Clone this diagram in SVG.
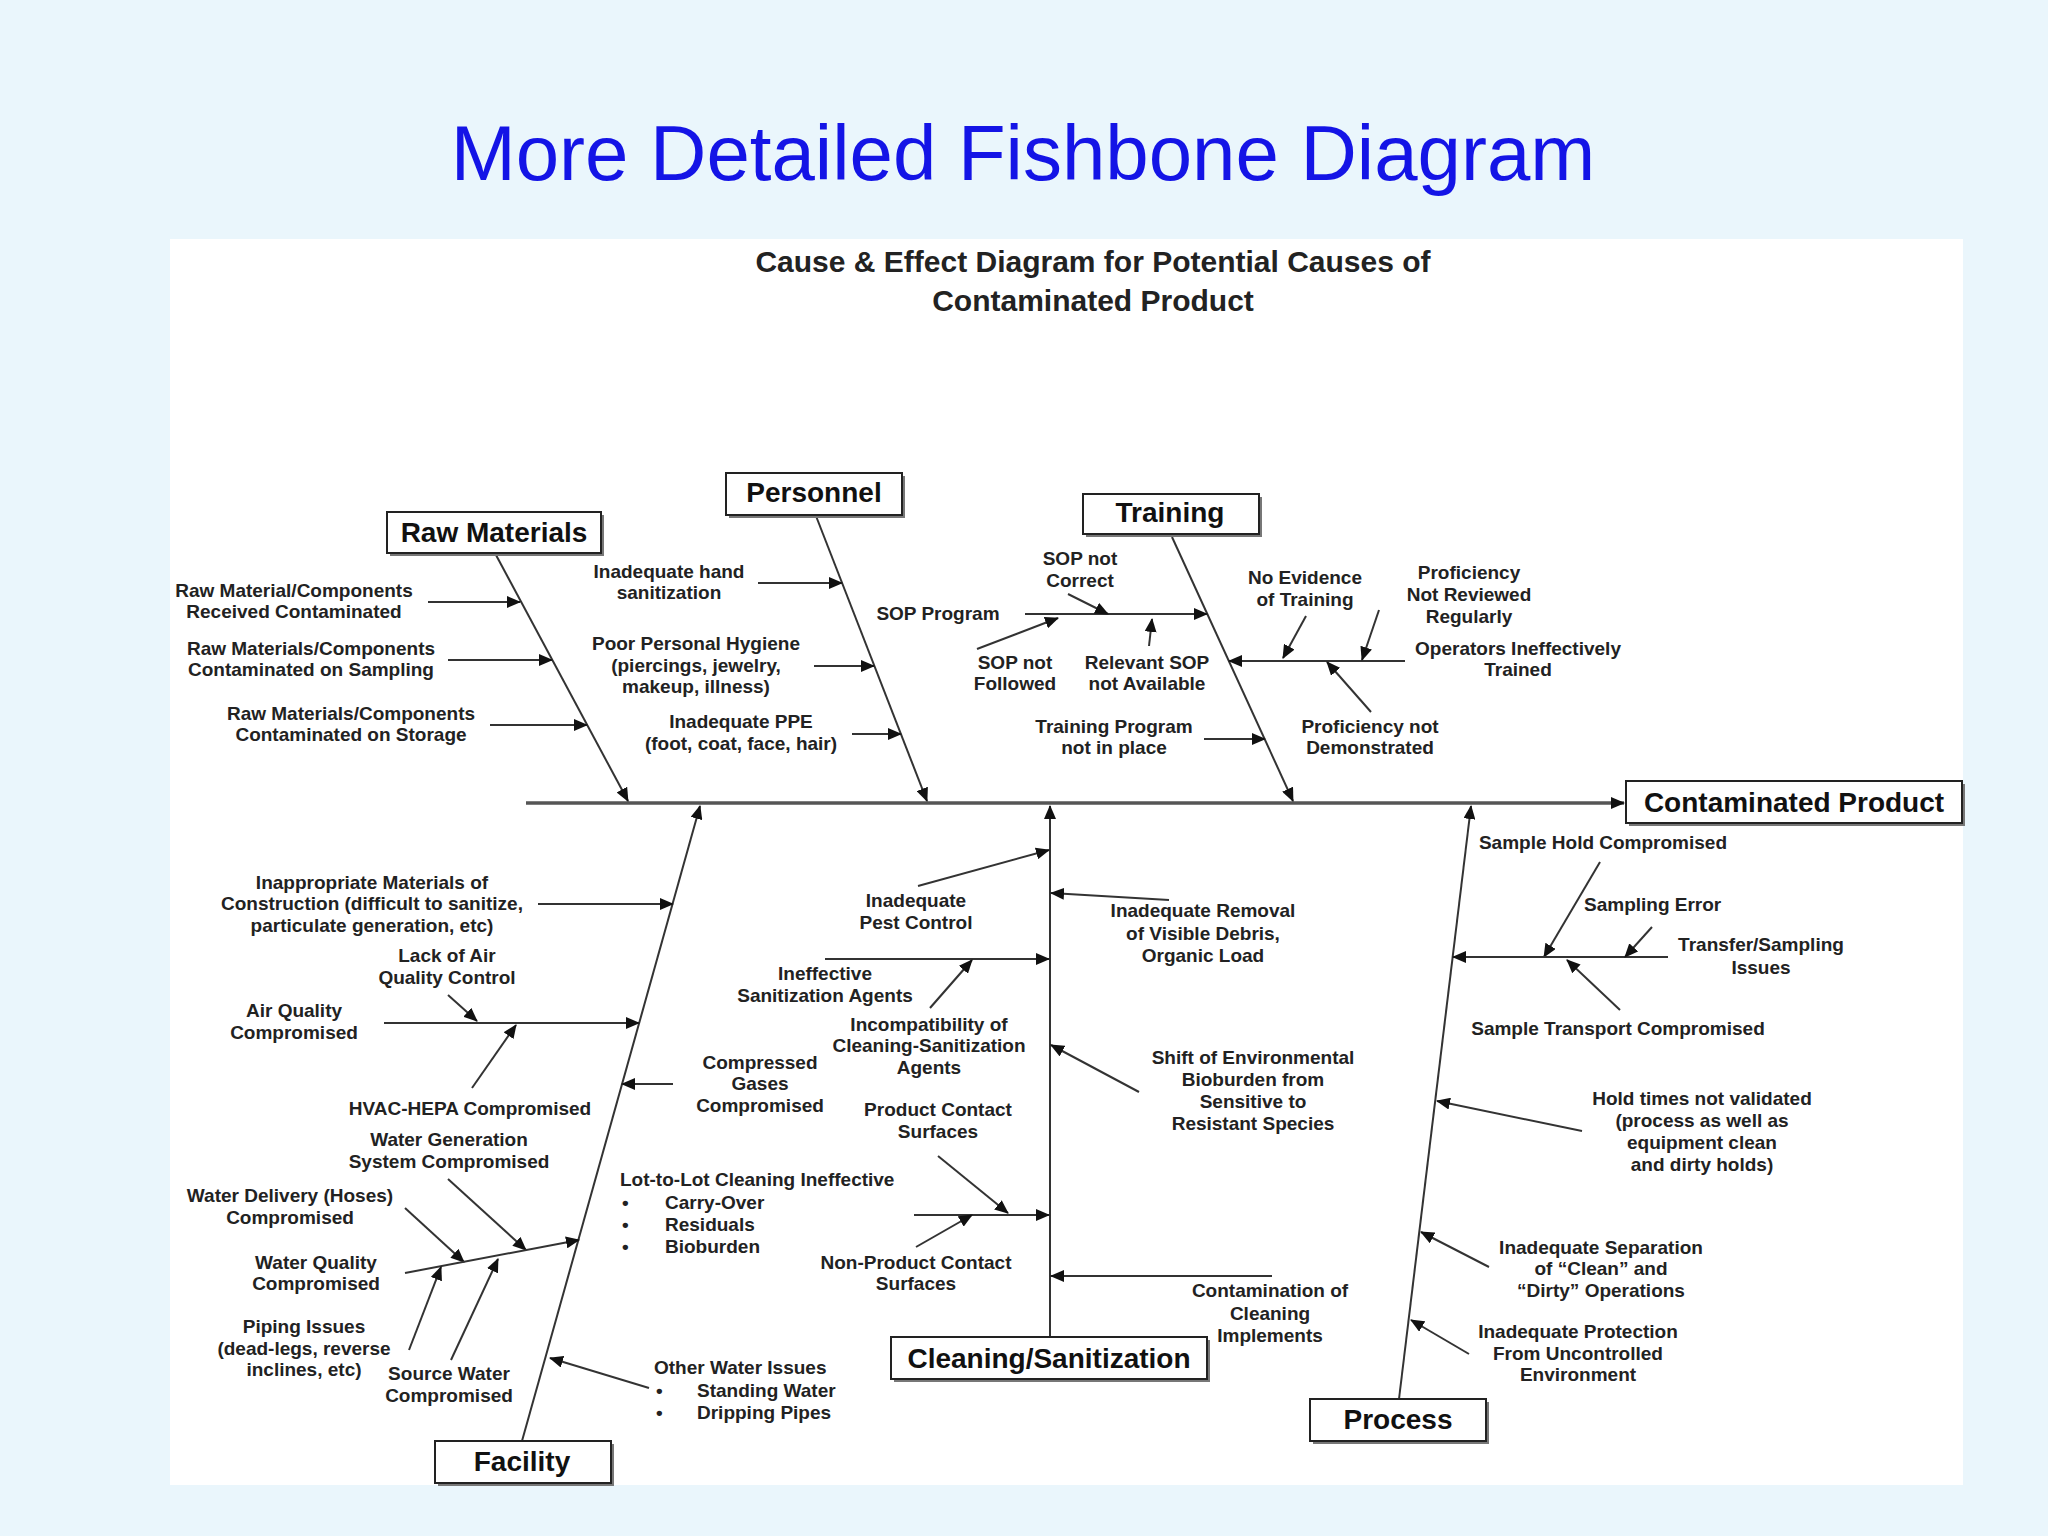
<svg xmlns="http://www.w3.org/2000/svg" width="2048" height="1536" viewBox="0 0 2048 1536">
<style>
.t{font-family:"Liberation Sans",Arial,sans-serif;font-size:19px;font-weight:bold;fill:#222;text-anchor:middle}
.l{text-anchor:start}
.bx{fill:#fff;stroke:#222;stroke-width:2}
.sh{fill:#777}
.bt{font-family:"Liberation Sans",Arial,sans-serif;font-size:28px;font-weight:bold;fill:#111;text-anchor:middle}
.ln{stroke:#333;stroke-width:2;fill:none;marker-end:url(#ah)}
.nl{stroke:#333;stroke-width:2;fill:none}
.sp{stroke:#555;stroke-width:3.5;fill:none}
</style>
<defs>
<marker id="ah" markerUnits="userSpaceOnUse" markerWidth="14" markerHeight="12" viewBox="0 0 14 12" refX="13" refY="6" orient="auto"><path d="M0,0L14,6L0,12z" fill="#111"/></marker>
</defs>
<rect width="2048" height="1536" fill="#eaf6fc"/>
<rect x="170" y="239" width="1793" height="1246" fill="#fff"/>
<text x="1023" y="180" style="font-family:'Liberation Sans',Arial,sans-serif;font-size:78px;fill:#1414e6;text-anchor:middle">More Detailed Fishbone Diagram</text>
<text x="1093" y="272" style="font-family:'Liberation Sans',Arial,sans-serif;font-size:30px;font-weight:bold;fill:#222;text-anchor:middle">Cause &amp; Effect Diagram for Potential Causes of</text>
<text x="1093" y="311" style="font-family:'Liberation Sans',Arial,sans-serif;font-size:30px;font-weight:bold;fill:#222;text-anchor:middle">Contaminated Product</text>

<g id="connectors">
<line class="sp" x1="526" y1="803" x2="1624" y2="803" style="marker-end:url(#ah)"/>
<line class="ln" x1="496" y1="555" x2="628" y2="801"/>
<line class="ln" x1="816" y1="516" x2="927" y2="801"/>
<line class="ln" x1="1172" y1="537" x2="1293" y2="801"/>
<line class="ln" x1="522" y1="1441" x2="700" y2="806"/>
<line class="ln" x1="1050" y1="1337" x2="1050" y2="806"/>
<line class="ln" x1="1399" y1="1399" x2="1471" y2="806"/>
<!-- raw -->
<line class="ln" x1="428" y1="602" x2="520" y2="602"/>
<line class="ln" x1="448" y1="660" x2="552" y2="660"/>
<line class="ln" x1="490" y1="725" x2="587" y2="725"/>
<!-- personnel -->
<line class="ln" x1="758" y1="583" x2="842" y2="583"/>
<line class="ln" x1="814" y1="666" x2="874" y2="666"/>
<line class="ln" x1="852" y1="734" x2="901" y2="734"/>
<!-- training -->
<line class="ln" x1="1025" y1="614" x2="1207" y2="614"/>
<line class="ln" x1="1068" y1="594" x2="1108" y2="614"/>
<line class="ln" x1="977" y1="649" x2="1058" y2="618"/>
<line class="ln" x1="1149" y1="646" x2="1152" y2="619"/>
<line class="ln" x1="1204" y1="739" x2="1265" y2="739"/>
<line class="ln" x1="1405" y1="661" x2="1229" y2="661"/>
<line class="ln" x1="1306" y1="616" x2="1283" y2="658"/>
<line class="ln" x1="1379" y1="610" x2="1362" y2="660"/>
<line class="ln" x1="1371" y1="712" x2="1327" y2="662"/>
<!-- facility -->
<line class="ln" x1="538" y1="904" x2="673" y2="904"/>
<line class="ln" x1="448" y1="995" x2="477" y2="1021"/>
<line class="ln" x1="384" y1="1023" x2="639" y2="1023"/>
<line class="ln" x1="472" y1="1088" x2="516" y2="1025"/>
<line class="ln" x1="673" y1="1084" x2="622" y2="1084"/>
<line class="ln" x1="448" y1="1179" x2="526" y2="1250"/>
<line class="ln" x1="405" y1="1208" x2="464" y2="1262"/>
<line class="ln" x1="405" y1="1273" x2="579" y2="1240"/>
<line class="ln" x1="409" y1="1350" x2="441" y2="1267"/>
<line class="ln" x1="451" y1="1360" x2="498" y2="1259"/>
<line class="ln" x1="649" y1="1388" x2="550" y2="1358"/>
<!-- cleaning -->
<line class="ln" x1="918" y1="886" x2="1049" y2="850"/>
<line class="ln" x1="1169" y1="900" x2="1051" y2="893"/>
<line class="ln" x1="825" y1="959" x2="1049" y2="959"/>
<line class="ln" x1="930" y1="1008" x2="972" y2="960"/>
<line class="ln" x1="1139" y1="1092" x2="1051" y2="1045"/>
<line class="ln" x1="914" y1="1215" x2="1049" y2="1215"/>
<line class="ln" x1="938" y1="1156" x2="1008" y2="1213"/>
<line class="ln" x1="916" y1="1247" x2="972" y2="1215"/>
<line class="ln" x1="1272" y1="1276" x2="1051" y2="1276"/>
<!-- process -->
<line class="ln" x1="1600" y1="862" x2="1544" y2="957"/>
<line class="ln" x1="1668" y1="957" x2="1453" y2="957"/>
<line class="ln" x1="1652" y1="927" x2="1625" y2="957"/>
<line class="ln" x1="1620" y1="1010" x2="1567" y2="960"/>
<line class="ln" x1="1582" y1="1131" x2="1437" y2="1101"/>
<line class="ln" x1="1489" y1="1267" x2="1421" y2="1232"/>
<line class="ln" x1="1469" y1="1354" x2="1411" y2="1320"/>
</g>

<g id="raw-materials">
<rect class="sh" x="390" y="515" width="214" height="41"/><rect class="bx" x="387" y="512" width="214" height="41"/>
<text class="bt" x="494" y="542">Raw Materials</text>
<text class="t" x="294" y="597">Raw Material/Components<tspan x="294" dy="21">Received Contaminated</tspan></text>
<text class="t" x="311" y="655">Raw Materials/Components<tspan x="311" dy="21">Contaminated on Sampling</tspan></text>
<text class="t" x="351" y="720">Raw Materials/Components<tspan x="351" dy="21">Contaminated on Storage</tspan></text>
</g>
<g id="personnel">
<rect class="sh" x="729" y="476" width="176" height="42"/><rect class="bx" x="726" y="473" width="176" height="42"/>
<text class="bt" x="814" y="502">Personnel</text>
<text class="t" x="669" y="578">Inadequate hand<tspan x="669" dy="21">sanitization</tspan></text>
<text class="t" x="696" y="650">Poor Personal Hygiene<tspan x="696" dy="22">(piercings, jewelry,</tspan><tspan x="696" dy="21">makeup, illness)</tspan></text>
<text class="t" x="741" y="728">Inadequate PPE<tspan x="741" dy="22">(foot, coat, face, hair)</tspan></text>
</g>
<g id="training">
<rect class="sh" x="1086" y="497" width="176" height="40"/><rect class="bx" x="1083" y="494" width="176" height="40"/>
<text class="bt" x="1170" y="522">Training</text>
<text class="t" x="938" y="620">SOP Program</text>
<text class="t" x="1080" y="565">SOP not<tspan x="1080" dy="22">Correct</tspan></text>
<text class="t" x="1015" y="669">SOP not<tspan x="1015" dy="21">Followed</tspan></text>
<text class="t" x="1147" y="669">Relevant SOP<tspan x="1147" dy="21">not Available</tspan></text>
<text class="t" x="1114" y="733">Training Program<tspan x="1114" dy="21">not in place</tspan></text>
<text class="t" x="1305" y="584">No Evidence<tspan x="1305" dy="22">of Training</tspan></text>
<text class="t" x="1469" y="579">Proficiency<tspan x="1469" dy="22">Not Reviewed</tspan><tspan x="1469" dy="22">Regularly</tspan></text>
<text class="t" x="1518" y="655">Operators Ineffectively<tspan x="1518" dy="21">Trained</tspan></text>
<text class="t" x="1370" y="733">Proficiency not<tspan x="1370" dy="21">Demonstrated</tspan></text>
</g>
<g id="effect">
<rect class="sh" x="1629" y="784" width="336" height="42"/><rect class="bx" x="1626" y="781" width="336" height="42"/>
<text class="bt" x="1794" y="812">Contaminated Product</text>
</g>
<g id="facility">
<rect class="sh" x="438" y="1444" width="176" height="42"/><rect class="bx" x="435" y="1441" width="176" height="42"/>
<text class="bt" x="522" y="1471">Facility</text>
<text class="t" x="372" y="889">Inappropriate Materials of<tspan x="372" dy="21">Construction (difficult to sanitize,</tspan><tspan x="372" dy="22">particulate generation, etc)</tspan></text>
<text class="t" x="447" y="962">Lack of Air<tspan x="447" dy="22">Quality Control</tspan></text>
<text class="t" x="294" y="1017">Air Quality<tspan x="294" dy="22">Compromised</tspan></text>
<text class="t" x="470" y="1115">HVAC-HEPA Compromised</text>
<text class="t" x="760" y="1069">Compressed<tspan x="760" dy="21">Gases</tspan><tspan x="760" dy="22">Compromised</tspan></text>
<text class="t" x="449" y="1146">Water Generation<tspan x="449" dy="22">System Compromised</tspan></text>
<text class="t" x="290" y="1202">Water Delivery (Hoses)<tspan x="290" dy="22">Compromised</tspan></text>
<text class="t" x="316" y="1269">Water Quality<tspan x="316" dy="21">Compromised</tspan></text>
<text class="t" x="304" y="1333">Piping Issues<tspan x="304" dy="22">(dead-legs, reverse</tspan><tspan x="304" dy="21">inclines, etc)</tspan></text>
<text class="t" x="449" y="1380">Source Water<tspan x="449" dy="22">Compromised</tspan></text>
<text class="t l" x="654" y="1374">Other Water Issues</text>
<text class="t l" x="656" y="1397">•</text><text class="t l" x="697" y="1397">Standing Water</text>
<text class="t l" x="656" y="1419">•</text><text class="t l" x="697" y="1419">Dripping Pipes</text>
</g>
<g id="cleaning-sanitization">
<rect class="sh" x="894" y="1340" width="316" height="42"/><rect class="bx" x="891" y="1337" width="316" height="42"/>
<text class="bt" x="1049" y="1368">Cleaning/Sanitization</text>
<text class="t" x="916" y="907">Inadequate<tspan x="916" dy="22">Pest Control</tspan></text>
<text class="t" x="1203" y="917">Inadequate Removal<tspan x="1203" dy="23">of Visible Debris,</tspan><tspan x="1203" dy="22">Organic Load</tspan></text>
<text class="t" x="825" y="980">Ineffective<tspan x="825" dy="22">Sanitization Agents</tspan></text>
<text class="t" x="929" y="1031">Incompatibility of<tspan x="929" dy="21">Cleaning-Sanitization</tspan><tspan x="929" dy="22">Agents</tspan></text>
<text class="t" x="1253" y="1064">Shift of Environmental<tspan x="1253" dy="22">Bioburden from</tspan><tspan x="1253" dy="22">Sensitive to</tspan><tspan x="1253" dy="22">Resistant Species</tspan></text>
<text class="t" x="938" y="1116">Product Contact<tspan x="938" dy="22">Surfaces</tspan></text>
<text class="t l" x="620" y="1186">Lot-to-Lot Cleaning Ineffective</text>
<text class="t l" x="622" y="1209">•</text><text class="t l" x="665" y="1209">Carry-Over</text>
<text class="t l" x="622" y="1231">•</text><text class="t l" x="665" y="1231">Residuals</text>
<text class="t l" x="622" y="1253">•</text><text class="t l" x="665" y="1253">Bioburden</text>
<text class="t" x="916" y="1269">Non-Product Contact<tspan x="916" dy="21">Surfaces</tspan></text>
<text class="t" x="1270" y="1297">Contamination of<tspan x="1270" dy="23">Cleaning</tspan><tspan x="1270" dy="22">Implements</tspan></text>
</g>
<g id="process">
<rect class="sh" x="1313" y="1402" width="176" height="42"/><rect class="bx" x="1310" y="1399" width="176" height="42"/>
<text class="bt" x="1398" y="1429">Process</text>
<text class="t" x="1603" y="849">Sample Hold Compromised</text>
<text class="t l" x="1584" y="911">Sampling Error</text>
<text class="t" x="1761" y="951">Transfer/Sampling<tspan x="1761" dy="23">Issues</tspan></text>
<text class="t" x="1618" y="1035">Sample Transport Compromised</text>
<text class="t" x="1702" y="1105">Hold times not validated<tspan x="1702" dy="22">(process as well as</tspan><tspan x="1702" dy="22">equipment clean</tspan><tspan x="1702" dy="22">and dirty holds)</tspan></text>
<text class="t" x="1601" y="1254">Inadequate Separation<tspan x="1601" dy="21">of “Clean” and</tspan><tspan x="1601" dy="22">“Dirty” Operations</tspan></text>
<text class="t" x="1578" y="1338">Inadequate Protection<tspan x="1578" dy="22">From Uncontrolled</tspan><tspan x="1578" dy="21">Environment</tspan></text>
</g>
</svg>
